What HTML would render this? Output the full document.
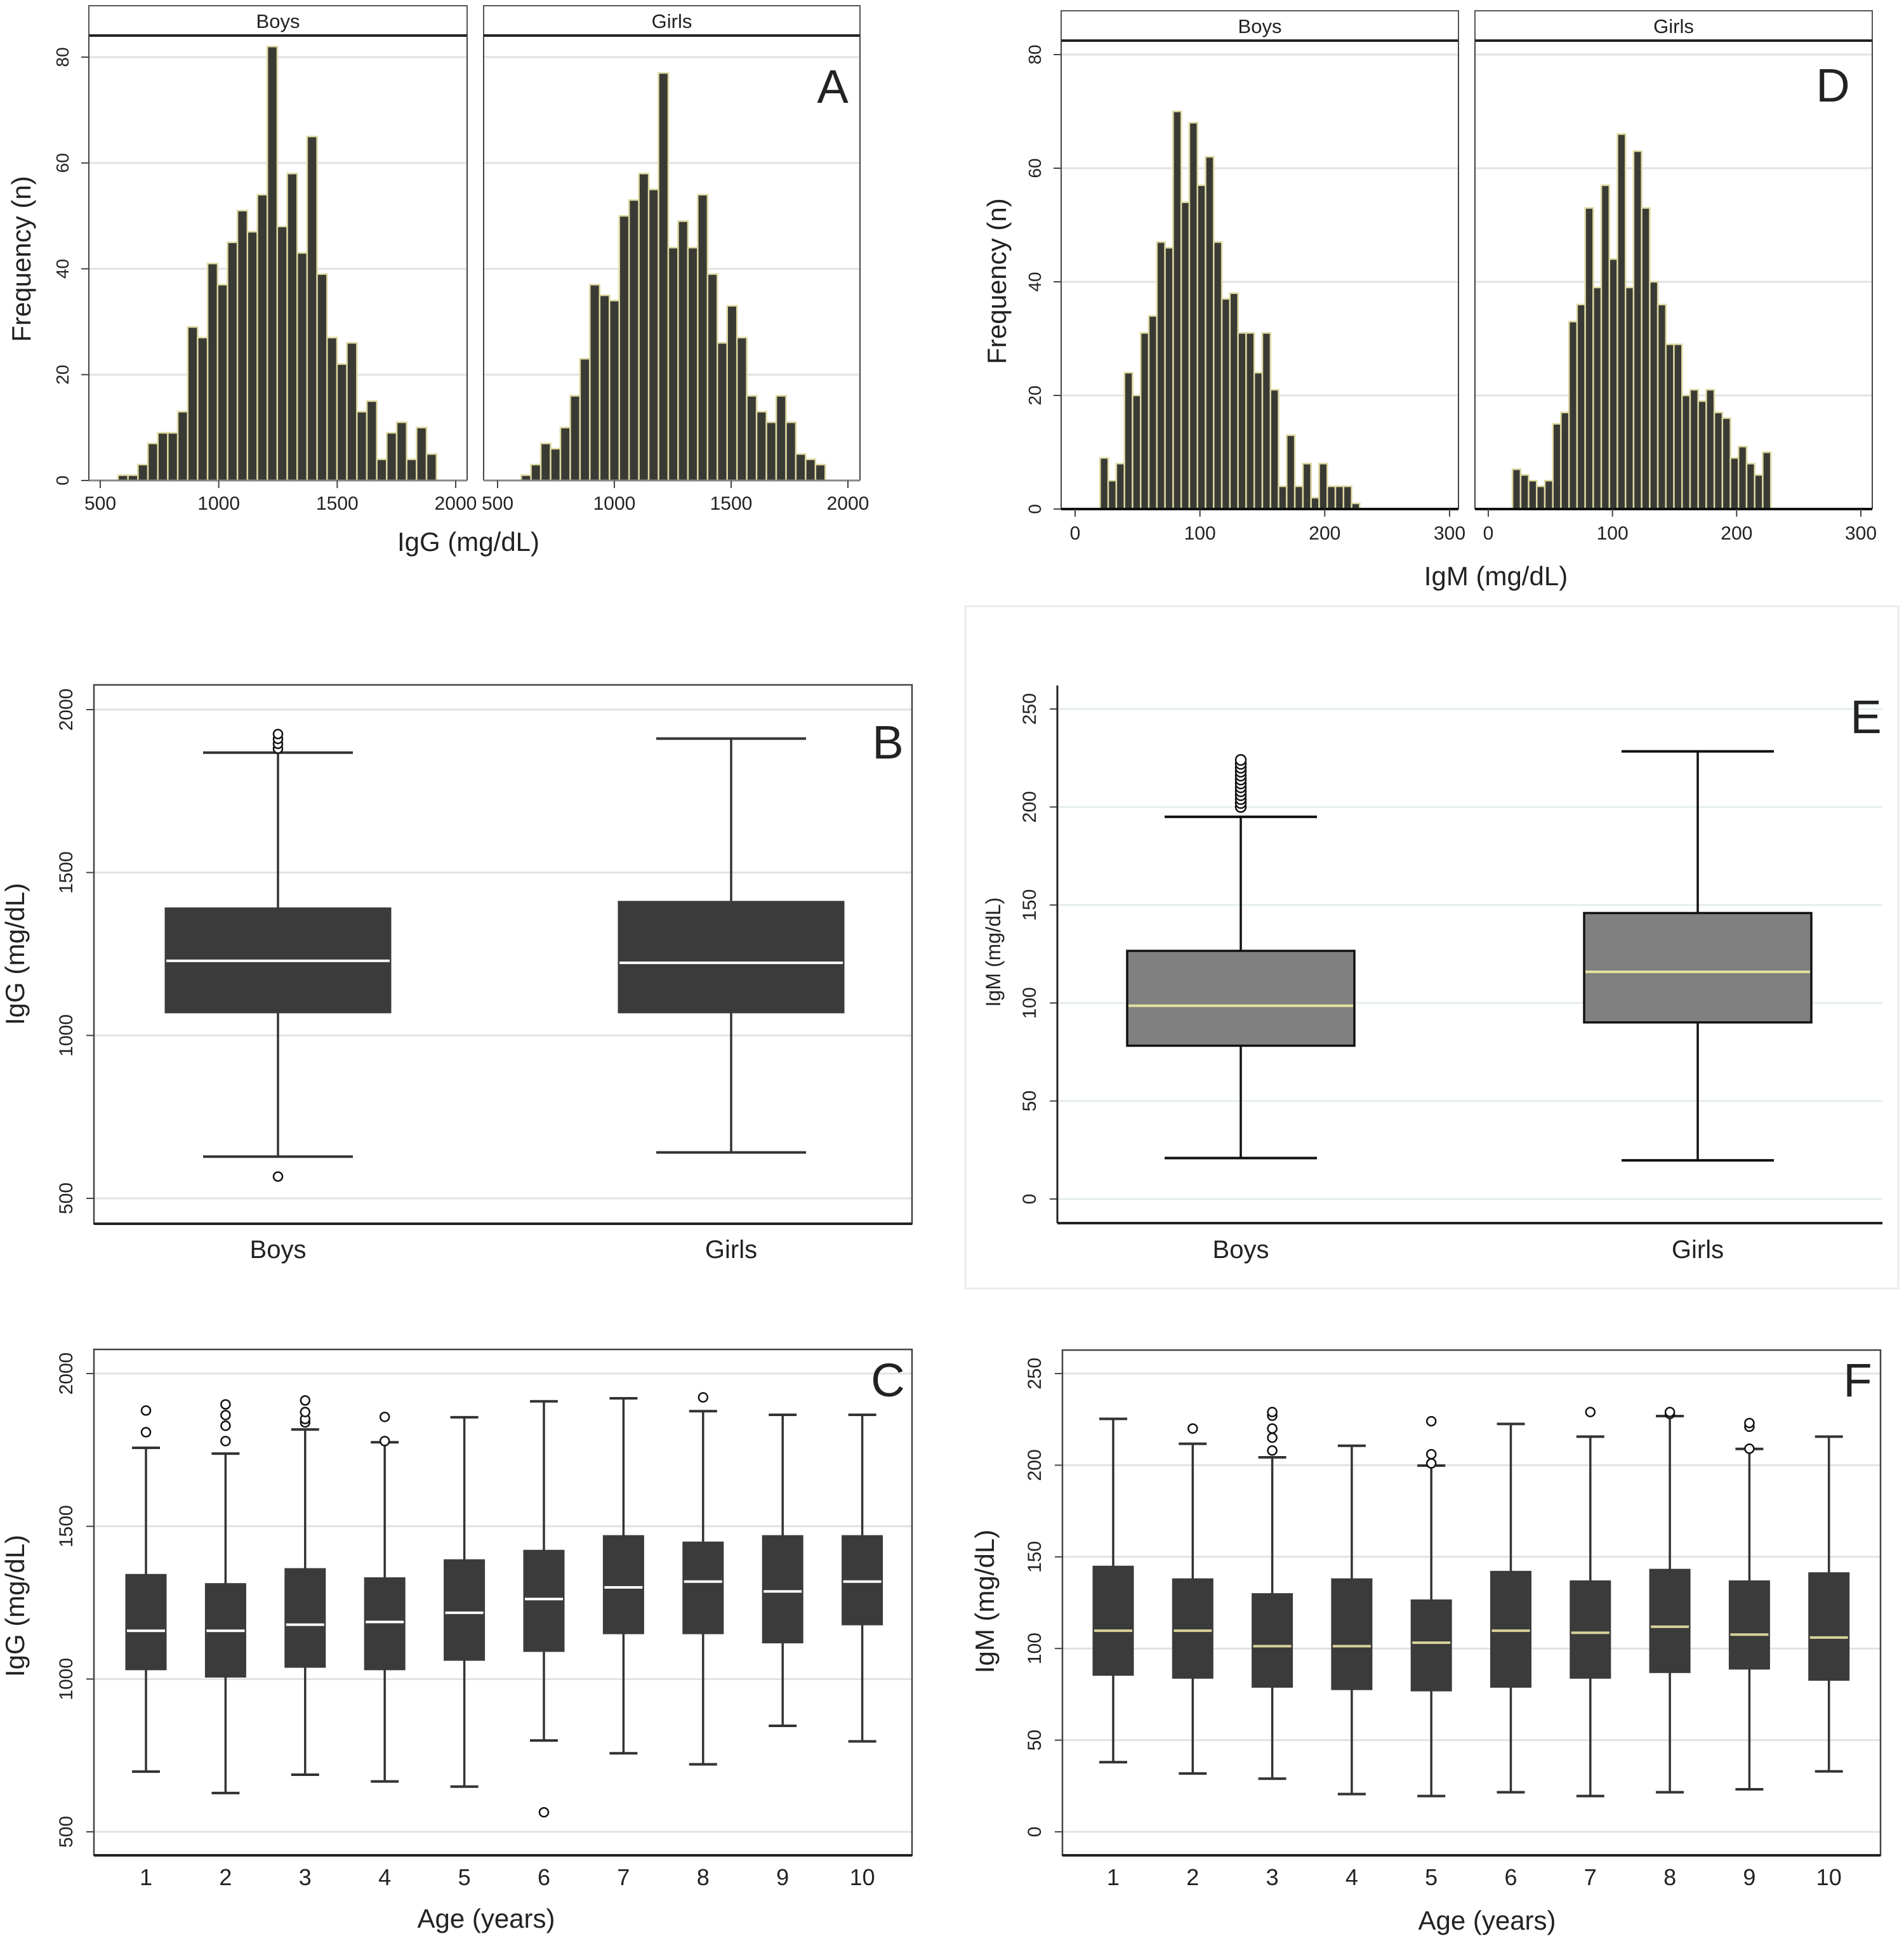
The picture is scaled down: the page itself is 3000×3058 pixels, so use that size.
<!DOCTYPE html>
<html><head><meta charset="utf-8"><style>
html,body{margin:0;padding:0;background:#fff}
svg{display:block;font-family:"Liberation Sans",Arial,sans-serif}
</style></head><body>
<svg id="fig" width="3000" height="3058" viewBox="0 0 3000 3058" xmlns="http://www.w3.org/2000/svg"></svg>
<script>
// ---------- DATA ----------
const igHistBins = 42;
const igBoysStart = 575;
const igBoysCounts = [1,1,3,7,9,9,13,29,27,41,37,45,51,47,54,82,48,58,43,65,39,27,22,26,13,15,4,9,11,4,10,5];
const igGirlsStart = 601;
const igGirlsCounts = [1,3,7,6,10,16,23,37,35,34,50,53,58,55,77,44,49,44,54,39,26,33,27,16,13,11,16,11,5,4,3];
const imHistBins = 6.5;
const imBoysStart = 20;
const imBoysCounts = [9,5,8,24,20,31,34,47,46,70,54,68,57,62,47,37,38,31,31,24,31,21,4,13,4,8,2,8,4,4,4,1];
const imGirlsStart = 19.5;
const imGirlsCounts = [7,6,5,4,5,15,17,33,36,53,39,57,44,66,39,63,53,40,36,29,29,20,21,19,21,17,16,9,11,8,6,10];
const histYTicks = [0,20,40,60,80];
const igXTicks = [500,1000,1500,2000];
const imXTicks = [0,100,200,300];

const sexCats = ["Boys","Girls"];
const igSexLow = [628,641], igSexQ1 = [1069,1069], igSexMed = [1229,1223], igSexQ3 = [1392,1412], igSexHigh = [1868,1911];
const igSexOut = [[567,1880,1895,1910,1925],[]];
const imSexLow = [20.9,19.7], imSexQ1 = [78.2,90.1], imSexMed = [98.6,115.9], imSexQ3 = [126.6,145.9], imSexHigh = [195,228.4];
const imSexOut = [[200,202,204,206,208,210,212,214,216,218,220,222,224],[]];

const ages = ["1","2","3","4","5","6","7","8","9","10"];
const igAgeLow  = [697,627,687,665,648,799,757,721,847,796];
const igAgeQ1   = [1030,1006,1038,1030,1061,1090,1148,1148,1118,1177];
const igAgeMed  = [1158,1158,1178,1187,1217,1262,1300,1319,1287,1319];
const igAgeQ3   = [1343,1313,1362,1332,1391,1422,1470,1449,1470,1470];
const igAgeHigh = [1757,1738,1817,1775,1857,1909,1919,1877,1865,1865];
const igAgeOut  = [[1808,1879],[1779,1829,1864,1899],[1840,1851,1874,1912],[1779,1858],[],[564],[],[1922],[],[]];
const imAgeLow  = [38,31.8,29,20.6,19.5,21.6,19.5,21.6,23.2,33];
const imAgeQ1   = [85.3,83.7,78.8,77.5,76.8,78.8,83.7,86.8,88.7,82.6];
const imAgeMed  = [109.7,109.7,101.3,101.3,103.2,109.7,108.6,111.9,107.6,106];
const imAgeQ3   = [145,138.1,130,138.1,126.6,142.2,137,143.3,137,141.4];
const imAgeHigh = [225.3,211.7,204.3,210.6,199.8,222.5,215.6,226.8,208.9,215.6];
const imAgeOut  = [[],[220],[208,215,220,227,229],[],[201,206,224],[],[229],[228,229],[209,221,223],[]];
const igBoxTicks = [500,1000,1500,2000];
const imBoxTicks = [0,50,100,150,200,250];

// ---------- HELPERS ----------
const svg = document.getElementById('fig');
const NS = "http://www.w3.org/2000/svg";
function mk(tag, attrs, parent, text){
  const e = document.createElementNS(NS, tag);
  for (const k in attrs) e.setAttribute(k, attrs[k]);
  if (text !== undefined) e.textContent = text;
  (parent||svg).appendChild(e);
  return e;
}
function group(name){
  const g = mk('g', {});
  
  
  return g;
}
function lin(d0,d1,r0,r1){ return v => r0 + (v-d0)*(r1-r0)/(d1-d0); }
function ytickLabel(g, x, y, txt, size){
  const t = mk('text', {x:x, y:y, 'font-size':size||30, fill:'#222', 'text-anchor':'middle', transform:`rotate(-90 ${x} ${y})`}, g, txt);
  
  
}
function label(g, x, y, txt, size, rot, name, weight){
  const a = {x:x, y:y, 'font-size':size, fill:'#222', 'text-anchor':'middle'};
  if (rot) a.transform = `rotate(-90 ${x} ${y})`;
  if (weight) a['font-weight'] = weight;
  const t = mk('text', a, g, txt);
  
  
}

// ---------- HISTOGRAMS ----------
function histPanel(name, cfg){
  const g = group(name);
  const y = lin(0,80,cfg.y0,cfg.y80);
  // strip
  const st = mk('rect', {x:cfg.l, y:cfg.sTop, width:cfg.r-cfg.l, height:cfg.sBot-cfg.sTop, fill:'#fff', stroke:'#555', 'stroke-width':2}, g);
  
  
  mk('line', {x1:cfg.l, x2:cfg.r, y1:cfg.sBot, y2:cfg.sBot, stroke:'#222', 'stroke-width':4}, g);
  label(g, (cfg.l+cfg.r)/2, cfg.sBot-12, cfg.title, 31, false, 'strip-title');
  // gridlines
  histYTicks.forEach(v => { if (v>0) mk('line', {x1:cfg.l, x2:cfg.r, y1:y(v), y2:y(v), stroke:'#e2e2e2', 'stroke-width':3}, g); });
  // frame
  mk('line', {x1:cfg.l, x2:cfg.l, y1:cfg.sBot, y2:cfg.y0, stroke:'#444', 'stroke-width':2}, g);
  mk('line', {x1:cfg.r, x2:cfg.r, y1:cfg.sBot, y2:cfg.y0, stroke:'#444', 'stroke-width':2}, g);
  const x = lin(cfg.dx0, cfg.dx1, cfg.px0, cfg.px1);
  cfg.counts.forEach((c,i) => {
    const v0 = cfg.start + i*cfg.bin, v1 = v0 + cfg.bin;
    const b = mk('rect', {x:x(v0), y:y(c), width:x(v1)-x(v0), height:cfg.y0-y(c), fill:'#3a3a35', stroke:'#ddd8a0', 'stroke-width':2.5}, g);
    
    
  });
  mk('line', {x1:cfg.l, x2:cfg.r, y1:cfg.y0, y2:cfg.y0, stroke:cfg.axisCol, 'stroke-width':cfg.axisW}, g);
  cfg.xticks.forEach(v => {
    mk('line', {x1:x(v), x2:x(v), y1:cfg.y0, y2:cfg.y0+12, stroke:'#444', 'stroke-width':2}, g);
    label(g, x(v), cfg.tickY, String(v), 30, false, 'x-tick-label');
  });
  if (cfg.yticks){
    histYTicks.forEach(v => {
      mk('line', {x1:cfg.l-12, x2:cfg.l, y1:y(v), y2:y(v), stroke:'#444', 'stroke-width':2}, g);
      ytickLabel(g, cfg.l-32, y(v), String(v), 28);
    });
  }
}
// Panel A
histPanel('histogram-igg-boys', {title:'Boys', l:140, r:736, sTop:9, sBot:56, y0:757, y80:90, dx0:500, dx1:2000, px0:158, px1:718, start:igBoysStart, bin:igHistBins, counts:igBoysCounts, xticks:igXTicks, tickY:803, yticks:true, axisCol:'#888', axisW:3});
histPanel('histogram-igg-girls', {title:'Girls', l:762, r:1355, sTop:9, sBot:56, y0:757, y80:90, dx0:500, dx1:2000, px0:784, px1:1336, start:igGirlsStart, bin:igHistBins, counts:igGirlsCounts, xticks:igXTicks, tickY:803, yticks:false, axisCol:'#888', axisW:3});
// Panel D
histPanel('histogram-igm-boys', {title:'Boys', l:1672, r:2298, sTop:17, sBot:64, y0:802, y80:86, dx0:0, dx1:300, px0:1694, px1:2284, start:imBoysStart, bin:imHistBins, counts:imBoysCounts, xticks:imXTicks, tickY:850, yticks:true, axisCol:'#111', axisW:4});
histPanel('histogram-igm-girls', {title:'Girls', l:2324, r:2950, sTop:17, sBot:64, y0:802, y80:86, dx0:0, dx1:300, px0:2345, px1:2932, start:imGirlsStart, bin:imHistBins, counts:imGirlsCounts, xticks:imXTicks, tickY:850, yticks:false, axisCol:'#111', axisW:4});
{
  const g = group('histogram-titles');
  label(g, 738, 868, 'IgG (mg/dL)', 42, false, 'x-axis-title-igg');
  label(g, 48, 408, 'Frequency (n)', 42, true, 'y-axis-title-frequency-a');
  label(g, 1312, 162, 'A', 74, false, 'panel-letter-a');
  label(g, 2357, 922, 'IgM (mg/dL)', 42, false, 'x-axis-title-igm');
  label(g, 1585, 443, 'Frequency (n)', 42, true, 'y-axis-title-frequency-d');
  label(g, 2888, 160, 'D', 74, false, 'panel-letter-d');
}

// ---------- BOX PLOTS ----------
function boxPanel(name, cfg){
  const g = group(name);
  const y = lin(cfg.d0, cfg.d1, cfg.py0, cfg.py1);
  if (cfg.outer){
    const o = mk('rect', {x:cfg.outer[0], y:cfg.outer[1], width:cfg.outer[2], height:cfg.outer[3], fill:'none', stroke:'#e8ecee', 'stroke-width':3}, g);
    
    
  }
  cfg.ticks.forEach(v => {
    mk('line', {x1:cfg.l, x2:cfg.r, y1:y(v), y2:y(v), stroke:cfg.gridCol, 'stroke-width':3}, g);
    mk('line', {x1:cfg.l-12, x2:cfg.l, y1:y(v), y2:y(v), stroke:'#444', 'stroke-width':2}, g);
    ytickLabel(g, cfg.l-34, y(v), String(v), cfg.tickSize);
  });
  if (cfg.fullFrame) mk('rect', {x:cfg.l, y:cfg.t, width:cfg.r-cfg.l, height:cfg.b-cfg.t, fill:'none', stroke:'#444', 'stroke-width':2.5}, g);
  else {
    mk('line', {x1:cfg.l, x2:cfg.l, y1:cfg.t, y2:cfg.b, stroke:'#222', 'stroke-width':3}, g);
  }
  mk('line', {x1:cfg.l, x2:cfg.r, y1:cfg.b, y2:cfg.b, stroke:'#222', 'stroke-width':4}, g);
  const n = cfg.cats.length;
  cfg.cats.forEach((c,i) => {
    const cx = cfg.x0 + i*cfg.dx;
    const bg = mk('g', {}, g);
    
    
    mk('line', {x1:cx, x2:cx, y1:y(cfg.high[i]), y2:y(cfg.q3[i]), stroke:cfg.wCol, 'stroke-width':3.5}, bg);
    mk('line', {x1:cx, x2:cx, y1:y(cfg.q1[i]), y2:y(cfg.low[i]), stroke:cfg.wCol, 'stroke-width':3.5}, bg);
    mk('line', {x1:cx-cfg.cap, x2:cx+cfg.cap, y1:y(cfg.high[i]), y2:y(cfg.high[i]), stroke:cfg.wCol, 'stroke-width':4}, bg);
    mk('line', {x1:cx-cfg.cap, x2:cx+cfg.cap, y1:y(cfg.low[i]), y2:y(cfg.low[i]), stroke:cfg.wCol, 'stroke-width':4}, bg);
    mk('rect', {x:cx-cfg.hw, y:y(cfg.q3[i]), width:2*cfg.hw, height:y(cfg.q1[i])-y(cfg.q3[i]), fill:cfg.fill, stroke:cfg.bStroke, 'stroke-width':cfg.bStrokeW}, bg);
    mk('line', {x1:cx-cfg.hw+2, x2:cx+cfg.hw-2, y1:y(cfg.med[i]), y2:y(cfg.med[i]), stroke:cfg.medCol, 'stroke-width':4}, bg);
    cfg.out[i].forEach(v => {
      const c2 = mk('circle', {cx:cx, cy:y(v), r:cfg.or, fill:'#fff', stroke:'#111', 'stroke-width':2.5}, bg);
      
      
    });
    label(g, cx, cfg.labY, c, cfg.catSize, false, 'x-category-label');
  });
  label(g, cfg.ytX, cfg.ytY, cfg.ytitle, cfg.ytSize, true, 'y-axis-title');
  if (cfg.xtitle) label(g, cfg.xtX, cfg.xtY, cfg.xtitle, 42, false, 'x-axis-title');
  label(g, cfg.letX, cfg.letY, cfg.letter, 74, false, 'panel-letter-'+cfg.letter.toLowerCase());
}
// Panel B
boxPanel('boxplot-igg-by-sex', {cats:sexCats, low:igSexLow, q1:igSexQ1, med:igSexMed, q3:igSexQ3, high:igSexHigh, out:igSexOut,
  d0:500, d1:2000, py0:1888, py1:1118, l:148, r:1437, t:1079, b:1928, ticks:igBoxTicks, gridCol:'#e2e2e2', fullFrame:true,
  x0:438, dx:714, hw:178, cap:118, fill:'#3b3b3b', bStroke:'#3b3b3b', bStrokeW:1, medCol:'#fff', wCol:'#333', or:7,
  labY:1982, catSize:40, ytitle:'IgG (mg/dL)', ytX:38, ytY:1503, ytSize:42, letter:'B', letX:1399, letY:1195, tickSize:30});
// Panel E
boxPanel('boxplot-igm-by-sex', {cats:sexCats, low:imSexLow, q1:imSexQ1, med:imSexMed, q3:imSexQ3, high:imSexHigh, out:imSexOut,
  d0:0, d1:250, py0:1889, py1:1117, l:1666, r:2966, t:1080, b:1927, ticks:imBoxTicks, gridCol:'#e6eef0', fullFrame:false,
  outer:[1521,955,1470,1075],
  x0:1955, dx:720, hw:179, cap:120, fill:'#808080', bStroke:'#111', bStrokeW:3.5, medCol:'#e6e0a2', wCol:'#111', or:8,
  labY:1982, catSize:40, ytitle:'IgM (mg/dL)', ytX:1576, ytY:1500, ytSize:32, letter:'E', letX:2940, letY:1155, tickSize:30});
// Panel C
boxPanel('boxplot-igg-by-age', {cats:ages, low:igAgeLow, q1:igAgeQ1, med:igAgeMed, q3:igAgeQ3, high:igAgeHigh, out:igAgeOut,
  d0:500, d1:2000, py0:2886, py1:2164, l:148, r:1437, t:2126, b:2923, ticks:igBoxTicks, gridCol:'#e2e2e2', fullFrame:true,
  x0:230, dx:125.4, hw:32, cap:22, fill:'#3b3b3b', bStroke:'#3b3b3b', bStrokeW:1, medCol:'#fff', wCol:'#333', or:7,
  labY:2970, catSize:36, ytitle:'IgG (mg/dL)', ytX:38, ytY:2530, ytSize:42, xtitle:'Age (years)', xtX:766, xtY:3037,
  letter:'C', letX:1399, letY:2200, tickSize:30});
// Panel F
boxPanel('boxplot-igm-by-age', {cats:ages, low:imAgeLow, q1:imAgeQ1, med:imAgeMed, q3:imAgeQ3, high:imAgeHigh, out:imAgeOut,
  d0:0, d1:250, py0:2886, py1:2164, l:1674, r:2963, t:2127, b:2923, ticks:imBoxTicks, gridCol:'#e2e2e2', fullFrame:true,
  x0:1754, dx:125.3, hw:32, cap:22, fill:'#3b3b3b', bStroke:'#3b3b3b', bStrokeW:1, medCol:'#d8d29a', wCol:'#333', or:7,
  labY:2970, catSize:36, ytitle:'IgM (mg/dL)', ytX:1566, ytY:2523, ytSize:42, xtitle:'Age (years)', xtX:2343, xtY:3040,
  letter:'F', letX:2927, letY:2200, tickSize:30});
</script>
</body></html>
